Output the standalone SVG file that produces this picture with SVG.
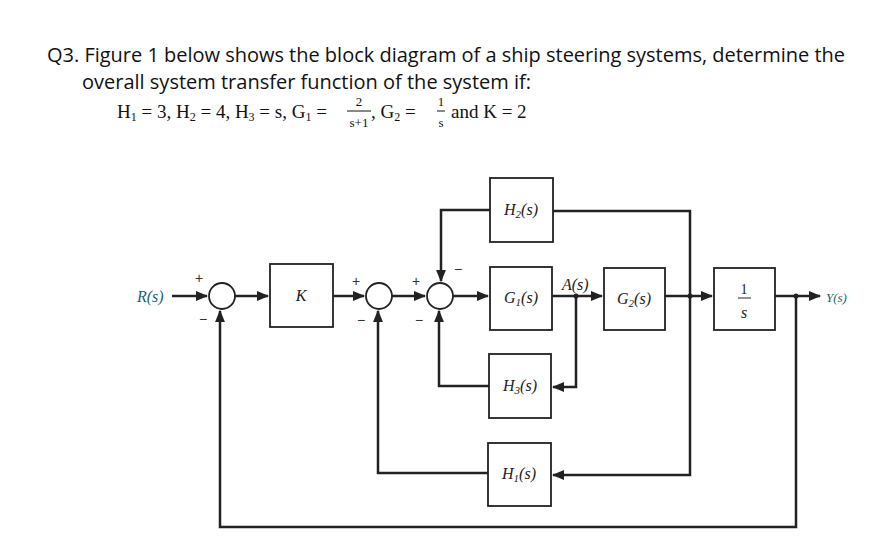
<svg xmlns="http://www.w3.org/2000/svg" width="884" height="542" viewBox="0 0 884 542">
<style>
.t{font-family:"Open Sans","Liberation Sans",sans-serif;font-size:20px;fill:#111}
.m{font-family:"Liberation Serif","DejaVu Serif",serif;font-size:19px;fill:#111}
.f{font-family:"Liberation Serif","DejaVu Serif",serif;font-size:13px;fill:#111;text-anchor:middle}
.b{fill:#fff;stroke:#222;stroke-width:1.8}
.l{font-family:"Liberation Serif",serif;font-style:italic;font-size:16px;fill:#222;text-anchor:middle}
.w{fill:none;stroke:#222;stroke-width:2.5}
.s{font-family:"Liberation Sans",sans-serif;font-size:14px;fill:#333}
</style>
<defs><marker id="a" viewBox="0 0 10 10" refX="9" refY="5" markerWidth="5" markerHeight="5" orient="auto" markerUnits="strokeWidth"><path d="M0,1 L10,5 L0,9 Z" fill="#222"/></marker></defs>
<rect width="884" height="542" fill="#fff"/>
<text class="t" x="47" y="62" textLength="798">Q3. Figure 1 below shows the block diagram of a ship steering systems, determine the</text>
<text class="t" x="82" y="89">overall system transfer function of the system if:</text>
<text class="m" x="117" y="118">H<tspan font-size="12" dy="3">1</tspan><tspan dy="-3"> = 3, H</tspan><tspan font-size="12" dy="3">2</tspan><tspan dy="-3"> = 4, H</tspan><tspan font-size="12" dy="3">3</tspan><tspan dy="-3"> = s, G</tspan><tspan font-size="12" dy="3">1</tspan><tspan dy="-3"> = </tspan></text>
<text class="f" x="359" y="106">2</text>
<line x1="347" y1="111" x2="371" y2="111" stroke="#111" stroke-width="1"/>
<text class="f" x="359" y="127">s+1</text>
<text class="m" x="371" y="118">, G<tspan font-size="12" dy="3">2</tspan><tspan dy="-3"> = </tspan></text>
<text class="f" x="441" y="106">1</text>
<line x1="437" y1="111" x2="445" y2="111" stroke="#111" stroke-width="1"/>
<text class="f" x="441" y="127">s</text>
<text class="m" x="451" y="118">and K = 2</text>

<g id="connectors" class="w">
<path d="M172,296 H207" marker-end="url(#a)"/>
<path d="M235,296 H268" marker-end="url(#a)"/>
<path d="M333,296 H364" marker-end="url(#a)"/>
<path d="M392,296 H425" marker-end="url(#a)"/>
<path d="M453,296 H488" marker-end="url(#a)"/>
<path d="M552,296 H602" marker-end="url(#a)"/>
<path d="M665,296 H712" marker-end="url(#a)"/>
<path d="M775,296 H820" marker-end="url(#a)"/>
<path d="M690,296 V211 H553"/>
<path d="M490,210 H441 V281" marker-end="url(#a)"/>
<path d="M576,296 V387 H553" marker-end="url(#a)"/>
<path d="M489,386 H439 V311" marker-end="url(#a)"/>
<path d="M690,296 V475 H553" marker-end="url(#a)"/>
<path d="M488,473 H378 V311" marker-end="url(#a)"/>
<path d="M796,296 V527 H220 V311" marker-end="url(#a)"/>
</g>
<g fill="#222"><circle cx="576" cy="296" r="2.5"/><circle cx="690" cy="296" r="2.5"/><circle cx="796" cy="296" r="2.5"/></g>

<g id="sum1"><circle class="b" cx="222" cy="296" r="13"/><text class="s" x="195" y="283">+</text><text class="s" x="199" y="324">−</text></g>
<g id="sum2"><circle class="b" cx="379" cy="296" r="13"/><text class="s" x="352" y="286">+</text><text class="s" x="357" y="325">−</text></g>
<g id="sum3"><circle class="b" cx="440" cy="296" r="13"/><text class="s" x="412" y="286">+</text><text class="s" x="415" y="325">−</text><text class="s" x="454" y="274">−</text></g>
<g id="R"><text x="137" y="302" font-family="Liberation Serif" font-style="italic" font-size="16" fill="#1d5f73">R(s)</text></g>
<g id="Y"><text x="826" y="302" font-family="Liberation Serif" font-style="italic" font-size="13" fill="#1d5f73">Y(s)</text></g>
<g id="K"><rect class="b" x="270" y="264" width="63" height="63"/><text class="l" x="301" y="301">K</text></g>
<g id="G1"><rect class="b" x="490" y="267" width="62" height="63"/><text class="l" x="521" y="303">G<tspan font-size="11" dy="3">1</tspan><tspan dy="-3">(s)</tspan></text></g>
<g id="A"><text x="562" y="290" font-family="Liberation Serif" font-style="italic" font-size="16" fill="#222">A(s)</text></g>
<g id="G2"><rect class="b" x="604" y="268" width="61" height="62"/><text class="l" x="634" y="304">G<tspan font-size="11" dy="3">2</tspan><tspan dy="-3">(s)</tspan></text></g>
<g id="I"><rect class="b" x="714" y="268" width="61" height="62"/><text class="l" x="744" y="294" style="font-style:normal;font-size:14px">1</text><line x1="738" y1="298" x2="751" y2="298" stroke="#222"/><text class="l" x="744" y="318">s</text></g>
<g id="H2"><rect class="b" x="490" y="178" width="63" height="64"/><text class="l" x="521" y="215">H<tspan font-size="11" dy="3">2</tspan><tspan dy="-3">(s)</tspan></text></g>
<g id="H3"><rect class="b" x="489" y="354" width="62" height="64"/><text class="l" x="520" y="391">H<tspan font-size="11" dy="3">3</tspan><tspan dy="-3">(s)</tspan></text></g>
<g id="H1"><rect class="b" x="488" y="443" width="63" height="63"/><text class="l" x="519" y="479">H<tspan font-size="11" dy="3">1</tspan><tspan dy="-3">(s)</tspan></text></g>
</svg>
